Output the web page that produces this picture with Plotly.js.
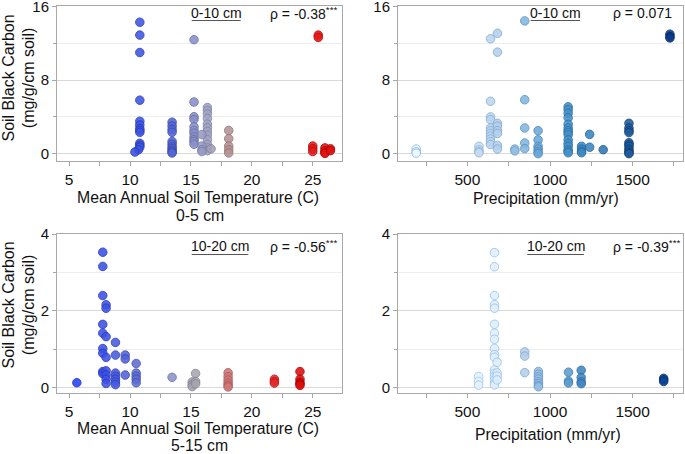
<!DOCTYPE html>
<html><head><meta charset="utf-8">
<script src="https://cdn.plot.ly/plotly-3.0.1.min.js"></script>
<style>html,body{margin:0;padding:0;background:#fff}#chart{width:685px;height:454px}</style>
</head><body><div id="chart"></div>
<script>
// ---- Data: 0-10 cm depth, soil temperature (0-5 cm) ----
var tempTop = [10.8,10.8,10.8,10.8,10.8,10.8,10.8,10.8,10.8,10.8,10.8,10.8,10.7,10.4,
  13.45,13.45,13.45,13.45,13.45,13.45,13.45,13.45,13.45,13.45,13.45,
  15.25,15.25,15.25,15.25,15.25,15.25,15.25,15.25,15.25,15.25,15.25,
  16.35,16.35,16.35,16.35,16.35,16.35,16.35,16.35,16.35,16.35,16.35,16.35,
  15.9,15.9,15.9,15.9,16.65,
  18.1,18.1,18.1,18.1,18.1,
  25.0,25.0,25.0,25.45,25.45,26.0,26.0,26.0,26.0,26.45,26.45];
var bcTempTop = [14.3,12.9,11.0,5.8,3.5,3.1,2.7,2.5,2.3,1.1,0.9,0.7,0.4,0.15,
  3.4,3.0,2.6,2.3,1.3,1.0,0.7,0.5,0.3,0.15,0.05,
  12.4,5.6,4.0,3.7,2.9,2.5,2.2,1.8,1.5,1.3,1.0,
  5.0,4.7,4.3,3.8,3.2,2.8,2.4,2.0,1.5,1.0,0.6,0.3,
  2.05,0.8,0.4,0.2,0.5,
  2.5,1.6,0.8,0.4,0.05,
  0.8,0.5,0.2,12.9,12.65,0.6,0.3,0.1,0.0,0.5,0.3];

// ---- Data: 0-10 cm depth, precipitation ----
var precipTop = [190,190,190, 570,570,570,570,
  640,640,640,640,640,640,640,640,640,640,640,
  682,682,682,682,682,682,682,682,
  787,787, 847,847,847,847,847,
  928,928,928,928,928,928,
  1110,1110,1110,1110,1110,1110,1110,1110,1110,1110,1110,1110,1110,1110,1110,
  1191,1191,1191,1191, 1240,1240, 1322,
  1478,1478,1478,1478,1478,1478,1478,1478,1478,1478,1478,
  1726,1726,1726];
var bcPrecipTop = [0.5,0.2,0.05, 0.8,0.4,0.2,0.1,
  12.5,5.7,4.0,3.7,2.8,2.5,2.2,1.9,1.6,1.3,1.0,
  13.1,11.05,3.3,3.0,2.5,2.2,0.9,0.5,
  0.5,0.3, 14.45,5.87,2.8,1.16,0.55,
  2.5,1.5,0.8,0.5,0.2,0.0,
  5.1,4.8,4.4,3.9,3.2,2.8,2.5,2.3,2.05,1.5,1.1,0.8,0.4,0.25,0.1,
  0.8,0.5,0.25,0.1, 2.1,0.7, 0.43,
  3.3,2.8,2.5,2.3,1.2,1.0,0.8,0.5,0.3,0.1,0.0,
  13.0,12.75,12.6];

// ---- Data: 10-20 cm depth, soil temperature (5-15 cm) ----
var tempBot = [5.63,
  7.76,7.76,7.76,7.76,7.76,7.76,7.76,7.76,7.76,
  8.03,8.03,8.03,8.03,8.03,8.03,8.03,8.03,
  8.8,8.8,8.8,8.8,8.8,8.8,8.8,
  9.6,9.6,9.6,
  10.5,10.5,10.5,10.5,10.5,
  13.45,
  15.1,15.1,15.1,15.38,15.38,15.38,
  18.05,18.05,18.05,18.05,18.05,18.05,
  21.85,21.85,21.85,
  23.95,23.95,23.95,23.95,23.95];
var bcTempBot = [0.13,
  3.53,3.16,2.4,1.65,1.42,1.02,0.9,0.42,0.37,
  2.16,2.07,1.33,0.79,0.44,0.33,0.22,0.11,
  1.18,0.85,0.38,0.3,0.22,0.15,0.08,
  0.85,0.75,0.33,
  0.63,0.38,0.3,0.22,0.13,
  0.27,
  0.15,0.08,0.03,0.37,0.16,0.1,
  0.39,0.29,0.2,0.12,0.06,0.02,
  0.22,0.16,0.12,
  0.42,0.22,0.14,0.1,0.06];

// ---- Data: 10-20 cm depth, precipitation ----
var precipBot = [568,568,568,
  664,664,664,664,664,664,664,664,664,664,664,664,664,664,664,664,664,
  680,680,680,680,
  847,847,847,
  930,930,930,930,930,930,930,930,
  1112,1112,1112,
  1189,1189,1189,1189,
  1688,1688,1688];
var bcPrecipBot = [0.29,0.16,0.06,
  3.52,3.15,2.4,2.16,2.07,1.65,1.42,1.26,1.02,0.86,0.79,0.46,0.37,0.29,0.2,0.12,0.07,
  0.66,0.38,0.3,0.2,
  0.93,0.82,0.39,
  0.42,0.35,0.28,0.22,0.15,0.1,0.05,0.02,
  0.4,0.17,0.12,
  0.45,0.26,0.15,0.1,
  0.24,0.2,0.16];

// ---- Tick labels / annotation texts ----
var depthTop = '0-10 cm', depthBot = '10-20 cm';
var rhoTexts = ['ρ = -0.38<sup>***</sup>', 'ρ = 0.071', 'ρ = -0.56<sup>***</sup>', 'ρ = -0.39<sup>***</sup>'];
var xTitleTemp = 'Mean Annual Soil Temperature (C)';
var xTitlePrecip = 'Precipitation (mm/yr)';
var yTitle = 'Soil Black Carbon<br>(mg/g/cm soil)';

// ---- Colour scales ----
var csTempTop = [[0,'#3a52e2'],[0.19,'#5466d4'],[0.30,'#8890c8'],[0.37,'#a0a4c2'],[0.48,'#b49294'],[0.7,'#d85050'],[0.9,'#e41c1c'],[1,'#e01010']];
var lcsTempTop = [[0,'#2538c0'],[0.19,'#3a4ab0'],[0.30,'#6a72a8'],[0.37,'#8488a8'],[0.48,'#947274'],[0.7,'#b83030'],[0.9,'#c00808'],[1,'#b80000']];
var csTempBot = [[0,'#2442f0'],[0.12,'#3a50e4'],[0.27,'#5e6ed2'],[0.42,'#8890c8'],[0.53,'#a8a6b0'],[0.68,'#d07878'],[0.89,'#e42828'],[1,'#dc0c0c']];
var lcsTempBot = [[0,'#1830d0'],[0.12,'#2638c4'],[0.27,'#4252b0'],[0.42,'#6a72a8'],[0.53,'#888690'],[0.68,'#b05858'],[0.89,'#c01414'],[1,'#b00000']];
var csPrecTop = [[0,'#f2f8ff'],[0.25,'#c6dcf0'],[0.32,'#b4d0ec'],[0.43,'#80b6de'],[0.48,'#6aa8d8'],[0.6,'#4690c8'],[0.68,'#3a84c0'],[0.83,'#1f5d9c'],[1,'#0a3c88']];
var lcsPrecTop = [[0,'#86bcee'],[0.25,'#90b8dc'],[0.32,'#84acd4'],[0.43,'#5a94c4'],[0.48,'#4a88bc'],[0.6,'#2c72aa'],[0.68,'#2266a2'],[0.83,'#10407a'],[1,'#06286a']];
var csPrecBot = [[0,'#e6f2fd'],[0.1,'#e0eefc'],[0.25,'#b4cee8'],[0.32,'#98c0e2'],[0.49,'#5a9ccc'],[0.55,'#4288c0'],[1,'#0a4898']];
var lcsPrecBot = [[0,'#9ccaf2'],[0.1,'#98c6f0'],[0.25,'#84acd4'],[0.32,'#6c9ccc'],[0.49,'#3c7eb4'],[0.55,'#2c6eaa'],[1,'#063070']];

function trace(x, y, xa, ya, cs, lcs, cmin, cmax) {
  return {type:'scatter', mode:'markers', x:x, y:y, xaxis:xa, yaxis:ya, hoverinfo:'skip', showlegend:false,
    marker:{size:8.5, opacity:0.88, color:x, colorscale:cs, cmin:cmin, cmax:cmax, showscale:false,
      line:{width:1, color:x, colorscale:lcs, cmin:cmin, cmax:cmax}}};
}

var data = [
  trace(tempTop, bcTempTop, 'x', 'y', csTempTop, lcsTempTop, 10.4, 26.5),
  trace(precipTop, bcPrecipTop, 'x2', 'y2', csPrecTop, lcsPrecTop, 190, 1730),
  trace(tempBot, bcTempBot, 'x3', 'y3', csTempBot, lcsTempBot, 5.6, 24),
  trace(precipBot, bcPrecipBot, 'x4', 'y4', csPrecBot, lcsPrecBot, 568, 1688)
];

var FONT = 'Liberation Sans, Arial, Helvetica, sans-serif';
var W = 685, H = 454;
function px(v){ return v / W; }
function py(v){ return 1 - v / H; }

function xax(dom, range, dtick, minorDt) {
  return {domain:dom, range:range, dtick:dtick, tick0:0, showline:true, linecolor:'#a8a8a8', linewidth:1, mirror:true,
    showgrid:false, zeroline:false, ticks:'outside', ticklen:4, tickcolor:'#a8a8a8', ticklabeloverflow:'allow',
    tickfont:{size:15.5, color:'#111', family:FONT},
    minor:{dtick:minorDt, tick0:0, ticks:'outside', ticklen:4, tickcolor:'#a8a8a8', showgrid:false}};
}
function yax(dom, range, dtick, minorDt, anchor) {
  return {domain:dom, range:range, dtick:dtick, tick0:0, anchor:anchor, showline:true, linecolor:'#a8a8a8', linewidth:1, mirror:true,
    showgrid:true, gridcolor:'#d9d9d9', gridwidth:1, zeroline:false, ticks:'outside', ticklen:4, tickcolor:'#a8a8a8',
    ticklabeloverflow:'allow',
    tickfont:{size:15, color:'#111', family:FONT},
    minor:{dtick:minorDt, tick0:0, ticks:'outside', ticklen:3, tickcolor:'#a8a8a8', showgrid:true, gridcolor:'#eeeeee'}};
}

var domXL = [px(57), px(342)], domXR = [px(398), px(683)];
var domYT = [py(161), py(6.2)], domYB = [py(393.3), py(233.8)];

var layout = {
  width:W, height:H, margin:{l:0, r:0, t:0, b:0}, paper_bgcolor:'#fff', plot_bgcolor:'#fff',
  font:{family:FONT, color:'#111'},
  xaxis: Object.assign(xax(domXL, [4.0, 27.4], 5, 2.5), {anchor:'y'}),
  yaxis: yax(domYT, [-0.83, 16.05], 8, 4, 'x'),
  xaxis2: Object.assign(xax(domXR, [80, 1805], 500, 250), {anchor:'y2'}),
  yaxis2: yax(domYT, [-0.8, 16.05], 8, 4, 'x2'),
  xaxis3: Object.assign(xax(domXL, [4.0, 27.4], 5, 2.5), {anchor:'y3'}),
  yaxis3: yax(domYB, [-0.146, 4.01], 2, 1, 'x3'),
  xaxis4: Object.assign(xax(domXR, [80, 1805], 500, 250), {anchor:'y4'}),
  yaxis4: yax(domYB, [-0.15, 4.01], 2, 1, 'x4'),
  shapes: [
    {type:'line', xref:'paper', yref:'paper', x0:px(191.7), x1:px(240.7), y0:py(20.5), y1:py(20.5), line:{color:'#555', width:1}},
    {type:'line', xref:'paper', yref:'paper', x0:px(530.7), x1:px(580), y0:py(20.5), y1:py(20.5), line:{color:'#555', width:1}},
    {type:'line', xref:'paper', yref:'paper', x0:px(191.7), x1:px(248.3), y0:py(254.5), y1:py(254.5), line:{color:'#555', width:1}},
    {type:'line', xref:'paper', yref:'paper', x0:px(527.3), x1:px(584), y0:py(254.5), y1:py(254.5), line:{color:'#555', width:1}}
  ],
  annotations: []
};

function ann(text, x, y, size, xanchor, extra) {
  var a = {text:text, xref:'paper', yref:'paper', x:x, y:y, xanchor:xanchor||'center', yanchor:'middle',
    showarrow:false, font:{size:size, color:'#111', family:FONT}};
  return Object.assign(a, extra||{});
}
var A = layout.annotations;
A.push(ann(depthTop, px(216), py(13), 14));
A.push(ann(depthTop, px(555.3), py(13), 14));
A.push(ann(depthBot, px(220), py(246), 14));
A.push(ann(depthBot, px(555.7), py(246), 14));
A.push(ann(rhoTexts[0], px(268), py(13), 14, 'left'));
A.push(ann(rhoTexts[1], px(610.5), py(13), 14, 'left'));
A.push(ann(rhoTexts[2], px(268), py(246.5), 14, 'left'));
A.push(ann(rhoTexts[3], px(610.5), py(246.5), 14, 'left'));
A.push(ann(xTitleTemp, px(198), py(197.3), 15.8));
A.push(ann('0-5 cm', px(200), py(215), 15.8));
A.push(ann(xTitleTemp, px(198), py(428), 15.8));
A.push(ann('5-15 cm', px(200), py(445), 15.8));
A.push(ann(xTitlePrecip, px(546), py(199), 15.8));
A.push(ann(xTitlePrecip, px(547.5), py(434), 15.8));
A.push(ann(yTitle, px(18.5), py(78), 16, 'center', {textangle:-90}));
A.push(ann(yTitle, px(18.5), py(305), 16, 'center', {textangle:-90}));

Plotly.newPlot('chart', data, layout, {staticPlot:true, displayModeBar:false});
</script></body></html>
